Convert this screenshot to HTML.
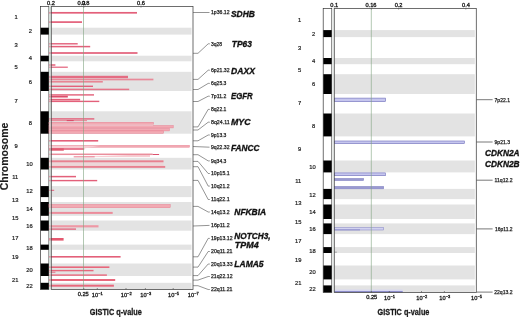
<!DOCTYPE html>
<html><head><meta charset="utf-8"><title>GISTIC</title>
<style>
html,body{margin:0;padding:0;background:#fff;}
body{width:520px;height:317px;overflow:hidden;}
svg{display:block;font-family:"Liberation Sans", sans-serif;}
</style></head><body>
<svg width="520" height="317" viewBox="0 0 520 317">
<rect x="0" y="0" width="520" height="317" fill="#fff"/>
<rect x="51.30" y="27.70" width="140.20" height="6.90" fill="#e3e3e3" />
<rect x="51.30" y="55.70" width="140.20" height="5.60" fill="#e3e3e3" />
<rect x="51.30" y="71.80" width="140.20" height="19.20" fill="#e3e3e3" />
<rect x="51.30" y="111.30" width="140.20" height="22.40" fill="#e3e3e3" />
<rect x="51.30" y="157.80" width="140.20" height="11.70" fill="#e3e3e3" />
<rect x="51.30" y="186.10" width="140.20" height="11.00" fill="#e3e3e3" />
<rect x="51.30" y="202.00" width="140.20" height="13.80" fill="#e3e3e3" />
<rect x="51.30" y="220.50" width="140.20" height="10.20" fill="#e3e3e3" />
<rect x="51.30" y="244.60" width="140.20" height="5.20" fill="#e3e3e3" />
<rect x="51.30" y="263.50" width="140.20" height="12.50" fill="#e3e3e3" />
<rect x="51.30" y="282.80" width="140.20" height="6.60" fill="#e3e3e3" />
<rect x="40.50" y="6.50" width="8.40" height="282.90" fill="#fff" />
<rect x="40.50" y="27.70" width="8.40" height="6.90" fill="#000" />
<rect x="40.50" y="55.70" width="8.40" height="5.60" fill="#000" />
<rect x="40.50" y="71.80" width="8.40" height="19.20" fill="#000" />
<rect x="40.50" y="111.30" width="8.40" height="22.40" fill="#000" />
<rect x="40.50" y="157.80" width="8.40" height="11.70" fill="#000" />
<rect x="40.50" y="186.10" width="8.40" height="11.00" fill="#000" />
<rect x="40.50" y="202.00" width="8.40" height="13.80" fill="#000" />
<rect x="40.50" y="220.50" width="8.40" height="10.20" fill="#000" />
<rect x="40.50" y="244.60" width="8.40" height="5.20" fill="#000" />
<rect x="40.50" y="263.50" width="8.40" height="12.50" fill="#000" />
<rect x="40.50" y="282.80" width="8.40" height="6.60" fill="#000" />
<rect x="40.50" y="6.50" width="8.40" height="282.90" fill="none" stroke="#333" stroke-width="0.7"/>
<rect x="49.20" y="6.50" width="1.80" height="282.90" fill="#d3dfda" />
<rect x="49.00" y="122.30" width="104.40" height="2.20" fill="#f2aab3" stroke="#e77f90" stroke-width="0.5"/>
<rect x="49.00" y="125.60" width="124.20" height="2.30" fill="#f2aab3" stroke="#e77f90" stroke-width="0.5"/>
<rect x="49.00" y="128.50" width="120.30" height="2.40" fill="#f2aab3" stroke="#e77f90" stroke-width="0.5"/>
<rect x="49.00" y="130.90" width="114.50" height="2.40" fill="#f2aab3" stroke="#e77f90" stroke-width="0.5"/>
<rect x="49.00" y="124.50" width="104.00" height="1.10" fill="#f6c9cf" />
<rect x="49" y="145.4" width="140.4" height="1.8" fill="#f2aab3" stroke="#e77f90" stroke-width="0.5"/>
<rect x="49" y="204.5" width="121.2" height="3.2" fill="#f2aab3" stroke="#e77f90" stroke-width="0.5"/>
<rect x="49.00" y="94.90" width="18.80" height="1.90" fill="#f6c6cc" />
<rect x="49.00" y="99.50" width="31.10" height="1.90" fill="#f6c6cc" />
<rect x="49.00" y="161.30" width="114.50" height="5.60" fill="#ecd6d8" />
<polygon points="49,145.7 100,145.7 84,148.4 49,148.4" fill="#f7cdd2"/>
<polygon points="74,157.0 150,154.2 150,157.0" fill="#f7cdd2"/>
<rect x="49.00" y="11.95" width="88.00" height="1.70" fill="#e3607a" />
<rect x="49.00" y="21.25" width="33.00" height="1.70" fill="#e3607a" />
<rect x="49.00" y="43.10" width="28.70" height="1.40" fill="#e3607a" />
<rect x="49.00" y="45.85" width="41.20" height="1.50" fill="#e3607a" />
<rect x="49.00" y="52.15" width="88.50" height="1.70" fill="#e3607a" />
<rect x="49.00" y="64.25" width="6.40" height="1.50" fill="#e3607a" />
<rect x="49.00" y="66.60" width="18.80" height="1.20" fill="#e3607a" />
<rect x="49.00" y="75.80" width="79.00" height="2.40" fill="#e46c82" />
<rect x="49.00" y="78.65" width="104.40" height="1.70" fill="#e88a9a" />
<rect x="49.00" y="81.05" width="53.80" height="1.50" fill="#e8808f" />
<rect x="49.00" y="85.60" width="44.00" height="1.40" fill="#e3607a" />
<rect x="49.00" y="88.65" width="80.20" height="1.50" fill="#e57589" />
<rect x="49.00" y="94.20" width="45.00" height="1.40" fill="#e3607a" />
<rect x="49.00" y="96.10" width="18.80" height="1.40" fill="#d8405f" />
<rect x="49.00" y="98.80" width="31.10" height="1.40" fill="#e3607a" />
<rect x="49.00" y="100.70" width="50.30" height="1.40" fill="#e3607a" />
<rect x="49.00" y="118.20" width="45.30" height="1.40" fill="#e3607a" />
<rect x="49.00" y="120.05" width="38.00" height="1.10" fill="#e88a9a" />
<rect x="49.00" y="140.00" width="49.20" height="1.60" fill="#e3607a" />
<rect x="49.00" y="148.20" width="35.20" height="1.60" fill="#e3607a" />
<rect x="49.00" y="153.55" width="103.60" height="1.50" fill="#ea8e9c" />
<rect x="49.00" y="160.35" width="114.50" height="1.90" fill="#e8808f" />
<rect x="49.00" y="165.95" width="116.20" height="1.90" fill="#e8808f" />
<rect x="49.00" y="175.85" width="27.00" height="1.50" fill="#e3607a" />
<rect x="49.00" y="179.90" width="48.20" height="1.40" fill="#e3607a" />
<rect x="49.00" y="189.80" width="5.20" height="1.00" fill="#e3607a" />
<rect x="49.00" y="211.90" width="63.70" height="2.00" fill="#ec8c9b" />
<rect x="49.00" y="225.20" width="49.50" height="2.20" fill="#ee98a5" />
<rect x="49.00" y="228.45" width="27.00" height="1.30" fill="#e3607a" />
<rect x="49.00" y="238.00" width="14.60" height="2.60" fill="#e4586f" />
<rect x="49.00" y="256.00" width="71.60" height="1.60" fill="#e3607a" />
<rect x="49.00" y="266.40" width="60.40" height="1.60" fill="#e8687c" />
<rect x="49.00" y="269.90" width="44.50" height="1.40" fill="#e8687c" />
<rect x="49.00" y="271.75" width="6.40" height="0.90" fill="#e3607a" />
<rect x="49.00" y="274.40" width="57.90" height="1.40" fill="#e8687c" />
<rect x="49.00" y="279.00" width="66.20" height="2.00" fill="#e8687c" />
<rect x="49.00" y="284.70" width="64.90" height="2.00" fill="#e8687c" />
<rect x="73.70" y="156.40" width="21.00" height="0.90" fill="#e66e83" />
<rect x="152.60" y="154.10" width="6.50" height="0.90" fill="#d8405f" />
<rect x="49.00" y="148.30" width="14.80" height="2.40" fill="#e25a70" />
<rect x="66.70" y="120.20" width="7.00" height="0.90" fill="#d8405f" />
<rect x="49.20" y="6.50" width="1.80" height="282.90" fill="#dde6e2" opacity="0.55"/>
<line x1="83.50" y1="6.50" x2="83.50" y2="289.40" stroke="#7fa27f" stroke-width="0.6" />
<rect x="51.30" y="6.50" width="141.70" height="282.90" fill="none" stroke="#4a4a4a" stroke-width="0.8"/>
<line x1="83.80" y1="289.40" x2="83.80" y2="288.00" stroke="#4a4a4a" stroke-width="0.6" />
<line x1="97.30" y1="289.40" x2="97.30" y2="288.00" stroke="#4a4a4a" stroke-width="0.6" />
<line x1="126.00" y1="289.40" x2="126.00" y2="288.00" stroke="#4a4a4a" stroke-width="0.6" />
<line x1="145.40" y1="289.40" x2="145.40" y2="288.00" stroke="#4a4a4a" stroke-width="0.6" />
<line x1="173.20" y1="289.40" x2="173.20" y2="288.00" stroke="#4a4a4a" stroke-width="0.6" />
<line x1="83.80" y1="6.50" x2="83.80" y2="7.60" stroke="#4a4a4a" stroke-width="0.6" />
<line x1="141.00" y1="6.50" x2="141.00" y2="7.60" stroke="#4a4a4a" stroke-width="0.6" />
<text x="51.00" y="4.60" font-size="5.7" fill="#1a1a1a" font-weight="normal" font-style="normal" text-anchor="middle" stroke="#1a1a1a" stroke-width="0.32">0.2</text>
<text x="81.50" y="4.60" font-size="5.7" fill="#1a1a1a" font-weight="normal" font-style="normal" text-anchor="middle" stroke="#1a1a1a" stroke-width="0.32">0.3</text>
<text x="85.60" y="4.60" font-size="5.7" fill="#1a1a1a" font-weight="normal" font-style="normal" text-anchor="middle" stroke="#1a1a1a" stroke-width="0.32">0.8</text>
<text x="141.00" y="4.60" font-size="5.7" fill="#1a1a1a" font-weight="normal" font-style="normal" text-anchor="middle" stroke="#1a1a1a" stroke-width="0.32">0.6</text>
<text x="83.20" y="296.40" font-size="5.7" fill="#1a1a1a" font-weight="normal" font-style="normal" text-anchor="middle" stroke="#1a1a1a" stroke-width="0.32">0.25</text>
<text x="97.30" y="297.20" font-size="5.7" fill="#1a1a1a" stroke="#1a1a1a" stroke-width="0.3" text-anchor="middle">10<tspan font-size="4.0" dy="-2.1">−1</tspan></text>
<text x="126.20" y="297.20" font-size="5.7" fill="#1a1a1a" stroke="#1a1a1a" stroke-width="0.3" text-anchor="middle">10<tspan font-size="4.0" dy="-2.1">−2</tspan></text>
<text x="145.70" y="297.20" font-size="5.7" fill="#1a1a1a" stroke="#1a1a1a" stroke-width="0.3" text-anchor="middle">10<tspan font-size="4.0" dy="-2.1">−3</tspan></text>
<text x="173.50" y="297.20" font-size="5.7" fill="#1a1a1a" stroke="#1a1a1a" stroke-width="0.3" text-anchor="middle">10<tspan font-size="4.0" dy="-2.1">−5</tspan></text>
<text x="193.30" y="297.20" font-size="5.7" fill="#1a1a1a" stroke="#1a1a1a" stroke-width="0.3" text-anchor="middle">10<tspan font-size="4.0" dy="-2.1">−7</tspan></text>
<text x="89.80" y="314.80" font-size="9.2" fill="#1a1a1a" font-weight="bold" font-style="normal" text-anchor="start" textLength="52.00" lengthAdjust="spacingAndGlyphs" stroke="#1a1a1a" stroke-width="0.3">GISTIC q-value</text>
<text x="16.20" y="19.05" font-size="5.8" fill="#222" font-weight="normal" font-style="normal" text-anchor="middle" stroke="#222" stroke-width="0.2">1</text>
<text x="30.40" y="33.45" font-size="5.8" fill="#222" font-weight="normal" font-style="normal" text-anchor="middle" stroke="#222" stroke-width="0.2">2</text>
<text x="16.20" y="47.25" font-size="5.8" fill="#222" font-weight="normal" font-style="normal" text-anchor="middle" stroke="#222" stroke-width="0.2">3</text>
<text x="30.40" y="60.45" font-size="5.8" fill="#222" font-weight="normal" font-style="normal" text-anchor="middle" stroke="#222" stroke-width="0.2">4</text>
<text x="16.20" y="68.55" font-size="5.8" fill="#222" font-weight="normal" font-style="normal" text-anchor="middle" stroke="#222" stroke-width="0.2">5</text>
<text x="30.40" y="83.55" font-size="5.8" fill="#222" font-weight="normal" font-style="normal" text-anchor="middle" stroke="#222" stroke-width="0.2">6</text>
<text x="16.20" y="103.45" font-size="5.8" fill="#222" font-weight="normal" font-style="normal" text-anchor="middle" stroke="#222" stroke-width="0.2">7</text>
<text x="30.40" y="124.65" font-size="5.8" fill="#222" font-weight="normal" font-style="normal" text-anchor="middle" stroke="#222" stroke-width="0.2">8</text>
<text x="16.20" y="148.35" font-size="5.8" fill="#222" font-weight="normal" font-style="normal" text-anchor="middle" stroke="#222" stroke-width="0.2">9</text>
<text x="29.40" y="166.35" font-size="5.8" fill="#222" font-weight="normal" font-style="normal" text-anchor="middle" stroke="#222" stroke-width="0.2">10</text>
<text x="15.20" y="179.25" font-size="5.8" fill="#222" font-weight="normal" font-style="normal" text-anchor="middle" stroke="#222" stroke-width="0.2">11</text>
<text x="29.40" y="193.45" font-size="5.8" fill="#222" font-weight="normal" font-style="normal" text-anchor="middle" stroke="#222" stroke-width="0.2">12</text>
<text x="15.20" y="201.65" font-size="5.8" fill="#222" font-weight="normal" font-style="normal" text-anchor="middle" stroke="#222" stroke-width="0.2">13</text>
<text x="29.40" y="211.15" font-size="5.8" fill="#222" font-weight="normal" font-style="normal" text-anchor="middle" stroke="#222" stroke-width="0.2">14</text>
<text x="15.20" y="220.45" font-size="5.8" fill="#222" font-weight="normal" font-style="normal" text-anchor="middle" stroke="#222" stroke-width="0.2">15</text>
<text x="29.40" y="228.25" font-size="5.8" fill="#222" font-weight="normal" font-style="normal" text-anchor="middle" stroke="#222" stroke-width="0.2">16</text>
<text x="15.20" y="240.05" font-size="5.8" fill="#222" font-weight="normal" font-style="normal" text-anchor="middle" stroke="#222" stroke-width="0.2">17</text>
<text x="29.40" y="249.65" font-size="5.8" fill="#222" font-weight="normal" font-style="normal" text-anchor="middle" stroke="#222" stroke-width="0.2">18</text>
<text x="15.20" y="258.65" font-size="5.8" fill="#222" font-weight="normal" font-style="normal" text-anchor="middle" stroke="#222" stroke-width="0.2">19</text>
<text x="29.40" y="272.05" font-size="5.8" fill="#222" font-weight="normal" font-style="normal" text-anchor="middle" stroke="#222" stroke-width="0.2">20</text>
<text x="15.20" y="281.65" font-size="5.8" fill="#222" font-weight="normal" font-style="normal" text-anchor="middle" stroke="#222" stroke-width="0.2">21</text>
<text x="29.40" y="287.95" font-size="5.8" fill="#222" font-weight="normal" font-style="normal" text-anchor="middle" stroke="#222" stroke-width="0.2">22</text>
<text transform="translate(7.9,190.2) rotate(-90)" font-size="10.2" font-weight="bold" fill="#1a1a1a" stroke="#1a1a1a" stroke-width="0.15" textLength="67.5" lengthAdjust="spacingAndGlyphs">Chromosome</text>
<polyline points="193.0,12.50 209.5,12.50" fill="none" stroke="#4c4c4c" stroke-width="0.6"/>
<text x="211.00" y="14.35" font-size="5.3" fill="#222" font-weight="normal" font-style="normal" text-anchor="start" textLength="18.60" lengthAdjust="spacingAndGlyphs"  stroke="#222" stroke-width="0.25">1p36.12</text>
<text x="231.00" y="16.80" font-size="9.8" fill="#111" font-weight="bold" font-style="italic" text-anchor="start" textLength="23.90" lengthAdjust="spacingAndGlyphs"  stroke="#111" stroke-width="0.35">SDHB</text>
<polyline points="193.0,53.30 198.0,53.30 208.2,43.80 209.8,43.80" fill="none" stroke="#4c4c4c" stroke-width="0.6" stroke-linejoin="round"/>
<text x="211.00" y="45.65" font-size="5.3" fill="#222" font-weight="normal" font-style="normal" text-anchor="start" textLength="11.00" lengthAdjust="spacingAndGlyphs"  stroke="#222" stroke-width="0.25">3q28</text>
<text x="231.80" y="47.10" font-size="9.8" fill="#111" font-weight="bold" font-style="italic" text-anchor="start" textLength="20.10" lengthAdjust="spacingAndGlyphs"  stroke="#111" stroke-width="0.35">TP63</text>
<polyline points="193.0,79.40 198.0,79.40 208.2,70.20 209.8,70.20" fill="none" stroke="#4c4c4c" stroke-width="0.6" stroke-linejoin="round"/>
<text x="211.00" y="72.05" font-size="5.3" fill="#222" font-weight="normal" font-style="normal" text-anchor="start" textLength="18.60" lengthAdjust="spacingAndGlyphs"  stroke="#222" stroke-width="0.25">6p21.32</text>
<text x="231.00" y="74.10" font-size="9.8" fill="#111" font-weight="bold" font-style="italic" text-anchor="start" textLength="23.90" lengthAdjust="spacingAndGlyphs"  stroke="#111" stroke-width="0.35">DAXX</text>
<polyline points="193.0,89.50 198.0,89.50 208.2,83.40 209.8,83.40" fill="none" stroke="#4c4c4c" stroke-width="0.6" stroke-linejoin="round"/>
<text x="211.00" y="85.25" font-size="5.3" fill="#222" font-weight="normal" font-style="normal" text-anchor="start" textLength="15.40" lengthAdjust="spacingAndGlyphs"  stroke="#222" stroke-width="0.25">6q25.3</text>
<polyline points="193.0,101.50 198.0,101.50 208.2,96.20 209.8,96.20" fill="none" stroke="#4c4c4c" stroke-width="0.6" stroke-linejoin="round"/>
<text x="211.00" y="98.05" font-size="5.3" fill="#222" font-weight="normal" font-style="normal" text-anchor="start" textLength="15.40" lengthAdjust="spacingAndGlyphs"  stroke="#222" stroke-width="0.25">7p11.2</text>
<text x="231.00" y="99.20" font-size="9.8" fill="#111" font-weight="bold" font-style="italic" text-anchor="start" textLength="21.70" lengthAdjust="spacingAndGlyphs"  stroke="#111" stroke-width="0.35">EGFR</text>
<polyline points="193.0,126.90 198.0,126.90 208.2,109.40 209.8,109.40" fill="none" stroke="#4c4c4c" stroke-width="0.6" stroke-linejoin="round"/>
<text x="211.00" y="111.25" font-size="5.3" fill="#222" font-weight="normal" font-style="normal" text-anchor="start" textLength="15.40" lengthAdjust="spacingAndGlyphs"  stroke="#222" stroke-width="0.25">8q22.1</text>
<polyline points="193.0,130.00 198.0,130.00 208.2,122.20 209.8,122.20" fill="none" stroke="#4c4c4c" stroke-width="0.6" stroke-linejoin="round"/>
<text x="211.00" y="124.05" font-size="5.3" fill="#222" font-weight="normal" font-style="normal" text-anchor="start" textLength="18.60" lengthAdjust="spacingAndGlyphs"  stroke="#222" stroke-width="0.25">8q24.11</text>
<text x="231.00" y="125.00" font-size="9.8" fill="#111" font-weight="bold" font-style="italic" text-anchor="start" textLength="19.60" lengthAdjust="spacingAndGlyphs"  stroke="#111" stroke-width="0.35">MYC</text>
<polyline points="193.0,140.80 198.0,140.80 208.2,135.00 209.8,135.00" fill="none" stroke="#4c4c4c" stroke-width="0.6" stroke-linejoin="round"/>
<text x="211.00" y="136.85" font-size="5.3" fill="#222" font-weight="normal" font-style="normal" text-anchor="start" textLength="15.40" lengthAdjust="spacingAndGlyphs"  stroke="#222" stroke-width="0.25">9p13.3</text>
<polyline points="193.0,146.50 209.5,147.20" fill="none" stroke="#4c4c4c" stroke-width="0.6"/>
<text x="211.00" y="149.05" font-size="5.3" fill="#222" font-weight="normal" font-style="normal" text-anchor="start" textLength="18.60" lengthAdjust="spacingAndGlyphs"  stroke="#222" stroke-width="0.25">9q22.32</text>
<text x="231.00" y="151.20" font-size="9.8" fill="#111" font-weight="bold" font-style="italic" text-anchor="start" textLength="28.40" lengthAdjust="spacingAndGlyphs"  stroke="#111" stroke-width="0.35">FANCC</text>
<polyline points="193.0,154.70 198.0,154.70 208.2,160.90 209.8,160.90" fill="none" stroke="#4c4c4c" stroke-width="0.6" stroke-linejoin="round"/>
<text x="211.00" y="162.75" font-size="5.3" fill="#222" font-weight="normal" font-style="normal" text-anchor="start" textLength="15.40" lengthAdjust="spacingAndGlyphs"  stroke="#222" stroke-width="0.25">9q34.3</text>
<polyline points="193.0,161.40 198.0,161.40 208.2,173.50 209.8,173.50" fill="none" stroke="#4c4c4c" stroke-width="0.6" stroke-linejoin="round"/>
<text x="211.00" y="175.35" font-size="5.3" fill="#222" font-weight="normal" font-style="normal" text-anchor="start" textLength="18.60" lengthAdjust="spacingAndGlyphs"  stroke="#222" stroke-width="0.25">10p15.1</text>
<polyline points="193.0,166.70 198.0,166.70 208.2,186.10 209.8,186.10" fill="none" stroke="#4c4c4c" stroke-width="0.6" stroke-linejoin="round"/>
<text x="211.00" y="187.95" font-size="5.3" fill="#222" font-weight="normal" font-style="normal" text-anchor="start" textLength="18.60" lengthAdjust="spacingAndGlyphs"  stroke="#222" stroke-width="0.25">10q21.2</text>
<polyline points="193.0,180.40 198.0,180.40 208.2,199.50 209.8,199.50" fill="none" stroke="#4c4c4c" stroke-width="0.6" stroke-linejoin="round"/>
<text x="211.00" y="201.35" font-size="5.3" fill="#222" font-weight="normal" font-style="normal" text-anchor="start" textLength="18.60" lengthAdjust="spacingAndGlyphs"  stroke="#222" stroke-width="0.25">11q22.1</text>
<polyline points="193.0,206.40 198.0,206.40 208.2,212.00 209.8,212.00" fill="none" stroke="#4c4c4c" stroke-width="0.6" stroke-linejoin="round"/>
<text x="211.00" y="213.85" font-size="5.3" fill="#222" font-weight="normal" font-style="normal" text-anchor="start" textLength="18.60" lengthAdjust="spacingAndGlyphs"  stroke="#222" stroke-width="0.25">14q13.2</text>
<text x="234.30" y="215.00" font-size="9.8" fill="#111" font-weight="bold" font-style="italic" text-anchor="start" textLength="31.80" lengthAdjust="spacingAndGlyphs"  stroke="#111" stroke-width="0.35">NFKBIA</text>
<polyline points="193.0,226.00 209.5,225.40" fill="none" stroke="#4c4c4c" stroke-width="0.6"/>
<text x="211.00" y="227.25" font-size="5.3" fill="#222" font-weight="normal" font-style="normal" text-anchor="start" textLength="18.60" lengthAdjust="spacingAndGlyphs"  stroke="#222" stroke-width="0.25">16p11.2</text>
<polyline points="193.0,256.80 198.0,256.80 208.2,238.40 209.8,238.40" fill="none" stroke="#4c4c4c" stroke-width="0.6" stroke-linejoin="round"/>
<text x="211.00" y="240.25" font-size="5.3" fill="#222" font-weight="normal" font-style="normal" text-anchor="start" textLength="21.50" lengthAdjust="spacingAndGlyphs"  stroke="#222" stroke-width="0.25">19p13.12</text>
<text x="234.30" y="238.80" font-size="9.8" fill="#111" font-weight="bold" font-style="italic" text-anchor="start" textLength="36.30" lengthAdjust="spacingAndGlyphs"  stroke="#111" stroke-width="0.35">NOTCH3,</text>
<polyline points="193.0,267.10 198.0,267.10 208.2,251.50 209.8,251.50" fill="none" stroke="#4c4c4c" stroke-width="0.6" stroke-linejoin="round"/>
<text x="211.00" y="253.35" font-size="5.3" fill="#222" font-weight="normal" font-style="normal" text-anchor="start" textLength="21.50" lengthAdjust="spacingAndGlyphs"  stroke="#222" stroke-width="0.25">20q11.21</text>
<polyline points="193.0,275.60 198.0,275.60 208.2,264.00 209.8,264.00" fill="none" stroke="#4c4c4c" stroke-width="0.6" stroke-linejoin="round"/>
<text x="211.00" y="265.85" font-size="5.3" fill="#222" font-weight="normal" font-style="normal" text-anchor="start" textLength="21.50" lengthAdjust="spacingAndGlyphs"  stroke="#222" stroke-width="0.25">20q13.33</text>
<text x="234.30" y="267.10" font-size="9.8" fill="#111" font-weight="bold" font-style="italic" text-anchor="start" textLength="29.30" lengthAdjust="spacingAndGlyphs"  stroke="#111" stroke-width="0.35">LAMA5</text>
<polyline points="193.0,280.10 198.0,280.10 208.2,276.50 209.8,276.50" fill="none" stroke="#4c4c4c" stroke-width="0.6" stroke-linejoin="round"/>
<text x="211.00" y="278.35" font-size="5.3" fill="#222" font-weight="normal" font-style="normal" text-anchor="start" textLength="21.50" lengthAdjust="spacingAndGlyphs"  stroke="#222" stroke-width="0.25">21q22.12</text>
<polyline points="193.0,285.70 198.0,285.70 208.2,289.50 209.8,289.50" fill="none" stroke="#4c4c4c" stroke-width="0.6" stroke-linejoin="round"/>
<text x="211.00" y="291.35" font-size="5.3" fill="#222" font-weight="normal" font-style="normal" text-anchor="start" textLength="21.50" lengthAdjust="spacingAndGlyphs"  stroke="#222" stroke-width="0.25">22q11.21</text>
<text x="234.80" y="248.00" font-size="9.8" fill="#111" font-weight="bold" font-style="italic" text-anchor="start" textLength="23.80" lengthAdjust="spacingAndGlyphs"  stroke="#111" stroke-width="0.35">TPM4</text>
<rect x="334.30" y="30.10" width="140.50" height="7.00" fill="#e3e3e3" />
<rect x="334.30" y="58.00" width="140.50" height="6.20" fill="#e3e3e3" />
<rect x="334.30" y="74.20" width="140.50" height="19.80" fill="#e3e3e3" />
<rect x="334.30" y="113.50" width="140.50" height="22.90" fill="#e3e3e3" />
<rect x="334.30" y="160.50" width="140.50" height="11.90" fill="#e3e3e3" />
<rect x="334.30" y="188.90" width="140.50" height="10.20" fill="#e3e3e3" />
<rect x="334.30" y="204.50" width="140.50" height="14.50" fill="#e3e3e3" />
<rect x="334.30" y="223.40" width="140.50" height="10.70" fill="#e3e3e3" />
<rect x="334.30" y="247.10" width="140.50" height="5.90" fill="#e3e3e3" />
<rect x="334.30" y="265.50" width="140.50" height="13.90" fill="#e3e3e3" />
<rect x="334.30" y="285.40" width="140.50" height="7.00" fill="#e3e3e3" />
<rect x="323.20" y="8.40" width="8.60" height="284.00" fill="#fff" />
<rect x="323.20" y="30.10" width="8.60" height="7.00" fill="#000" />
<rect x="323.20" y="58.00" width="8.60" height="6.20" fill="#000" />
<rect x="323.20" y="74.20" width="8.60" height="19.80" fill="#000" />
<rect x="323.20" y="113.50" width="8.60" height="22.90" fill="#000" />
<rect x="323.20" y="160.50" width="8.60" height="11.90" fill="#000" />
<rect x="323.20" y="188.90" width="8.60" height="10.20" fill="#000" />
<rect x="323.20" y="204.50" width="8.60" height="14.50" fill="#000" />
<rect x="323.20" y="223.40" width="8.60" height="10.70" fill="#000" />
<rect x="323.20" y="247.10" width="8.60" height="5.90" fill="#000" />
<rect x="323.20" y="265.50" width="8.60" height="13.90" fill="#000" />
<rect x="323.20" y="285.40" width="8.60" height="7.00" fill="#000" />
<rect x="323.20" y="8.40" width="8.60" height="284.00" fill="none" stroke="#333" stroke-width="0.7"/>
<rect x="332.10" y="8.40" width="1.90" height="284.00" fill="#e9ecea" />
<rect x="334.30" y="98.10" width="51.20" height="3.50" fill="#c6c6ee" stroke="#6b6bb8" stroke-width="0.6"/>
<rect x="334.30" y="141.00" width="130.00" height="2.60" fill="#c6c6ee" stroke="#6b6bb8" stroke-width="0.6"/>
<rect x="334.30" y="172.90" width="51.00" height="2.80" fill="#c6c6ee" stroke="#6b6bb8" stroke-width="0.6"/>
<rect x="334.30" y="178.50" width="29.30" height="2.00" fill="#9a9ad0" stroke="#8080c4" stroke-width="0.6"/>
<rect x="334.30" y="186.50" width="49.40" height="2.30" fill="#9a9ad0" stroke="#8080c4" stroke-width="0.6"/>
<rect x="334.30" y="227.60" width="49.40" height="2.40" fill="#d2d2f0" stroke="#8080c4" stroke-width="0.5"/>
<rect x="334.30" y="229.50" width="25.70" height="0.80" fill="#8080c4" />
<rect x="334.30" y="289.60" width="68.40" height="2.80" fill="#d8d8f2" />
<rect x="334.30" y="291.30" width="68.40" height="1.00" fill="#6b6bb8" />
<rect x="334.30" y="251.80" width="2.60" height="0.60" fill="#777" />
<line x1="371.30" y1="8.40" x2="371.30" y2="292.40" stroke="#7fa27f" stroke-width="0.6" />
<rect x="334.30" y="8.40" width="142.00" height="284.00" fill="none" stroke="#4a4a4a" stroke-width="0.8"/>
<line x1="371.40" y1="292.40" x2="371.40" y2="291.00" stroke="#4a4a4a" stroke-width="0.6" />
<line x1="389.30" y1="292.40" x2="389.30" y2="291.00" stroke="#4a4a4a" stroke-width="0.6" />
<line x1="421.50" y1="292.40" x2="421.50" y2="291.00" stroke="#4a4a4a" stroke-width="0.6" />
<line x1="444.40" y1="292.40" x2="444.40" y2="291.00" stroke="#4a4a4a" stroke-width="0.6" />
<line x1="371.40" y1="8.40" x2="371.40" y2="9.50" stroke="#4a4a4a" stroke-width="0.6" />
<line x1="398.60" y1="8.40" x2="398.60" y2="9.50" stroke="#4a4a4a" stroke-width="0.6" />
<line x1="465.80" y1="8.40" x2="465.80" y2="9.50" stroke="#4a4a4a" stroke-width="0.6" />
<text x="334.20" y="6.80" font-size="5.7" fill="#1a1a1a" font-weight="normal" font-style="normal" text-anchor="middle" stroke="#1a1a1a" stroke-width="0.32">0.1</text>
<text x="371.00" y="6.80" font-size="5.7" fill="#1a1a1a" font-weight="normal" font-style="normal" text-anchor="middle" stroke="#1a1a1a" stroke-width="0.32">0.16</text>
<text x="398.60" y="6.80" font-size="5.7" fill="#1a1a1a" font-weight="normal" font-style="normal" text-anchor="middle" stroke="#1a1a1a" stroke-width="0.32">0.2</text>
<text x="466.00" y="6.80" font-size="5.7" fill="#1a1a1a" font-weight="normal" font-style="normal" text-anchor="middle" stroke="#1a1a1a" stroke-width="0.32">0.4</text>
<text x="371.70" y="299.40" font-size="5.7" fill="#1a1a1a" font-weight="normal" font-style="normal" text-anchor="middle" stroke="#1a1a1a" stroke-width="0.32">0.25</text>
<text x="389.50" y="300.00" font-size="5.7" fill="#1a1a1a" stroke="#1a1a1a" stroke-width="0.3" text-anchor="middle">10<tspan font-size="4.0" dy="-2.1">−1</tspan></text>
<text x="421.80" y="300.00" font-size="5.7" fill="#1a1a1a" stroke="#1a1a1a" stroke-width="0.3" text-anchor="middle">10<tspan font-size="4.0" dy="-2.1">−2</tspan></text>
<text x="444.80" y="300.00" font-size="5.7" fill="#1a1a1a" stroke="#1a1a1a" stroke-width="0.3" text-anchor="middle">10<tspan font-size="4.0" dy="-2.1">−3</tspan></text>
<text x="476.50" y="300.00" font-size="5.7" fill="#1a1a1a" stroke="#1a1a1a" stroke-width="0.3" text-anchor="middle">10<tspan font-size="4.0" dy="-2.1">−5</tspan></text>
<text x="377.60" y="314.90" font-size="9.2" fill="#1a1a1a" font-weight="bold" font-style="normal" text-anchor="start" textLength="51.80" lengthAdjust="spacingAndGlyphs" stroke="#1a1a1a" stroke-width="0.3">GISTIC q-value</text>
<text x="299.50" y="21.75" font-size="5.8" fill="#222" font-weight="normal" font-style="normal" text-anchor="middle" stroke="#222" stroke-width="0.2">1</text>
<text x="313.70" y="36.05" font-size="5.8" fill="#222" font-weight="normal" font-style="normal" text-anchor="middle" stroke="#222" stroke-width="0.2">2</text>
<text x="299.50" y="49.75" font-size="5.8" fill="#222" font-weight="normal" font-style="normal" text-anchor="middle" stroke="#222" stroke-width="0.2">3</text>
<text x="313.70" y="63.05" font-size="5.8" fill="#222" font-weight="normal" font-style="normal" text-anchor="middle" stroke="#222" stroke-width="0.2">4</text>
<text x="299.50" y="71.75" font-size="5.8" fill="#222" font-weight="normal" font-style="normal" text-anchor="middle" stroke="#222" stroke-width="0.2">5</text>
<text x="313.70" y="86.35" font-size="5.8" fill="#222" font-weight="normal" font-style="normal" text-anchor="middle" stroke="#222" stroke-width="0.2">6</text>
<text x="299.50" y="105.05" font-size="5.8" fill="#222" font-weight="normal" font-style="normal" text-anchor="middle" stroke="#222" stroke-width="0.2">7</text>
<text x="313.70" y="127.65" font-size="5.8" fill="#222" font-weight="normal" font-style="normal" text-anchor="middle" stroke="#222" stroke-width="0.2">8</text>
<text x="299.50" y="151.05" font-size="5.8" fill="#222" font-weight="normal" font-style="normal" text-anchor="middle" stroke="#222" stroke-width="0.2">9</text>
<text x="312.50" y="168.95" font-size="5.8" fill="#222" font-weight="normal" font-style="normal" text-anchor="middle" stroke="#222" stroke-width="0.2">10</text>
<text x="298.30" y="182.75" font-size="5.8" fill="#222" font-weight="normal" font-style="normal" text-anchor="middle" stroke="#222" stroke-width="0.2">11</text>
<text x="312.50" y="196.65" font-size="5.8" fill="#222" font-weight="normal" font-style="normal" text-anchor="middle" stroke="#222" stroke-width="0.2">12</text>
<text x="298.30" y="204.55" font-size="5.8" fill="#222" font-weight="normal" font-style="normal" text-anchor="middle" stroke="#222" stroke-width="0.2">13</text>
<text x="312.50" y="214.05" font-size="5.8" fill="#222" font-weight="normal" font-style="normal" text-anchor="middle" stroke="#222" stroke-width="0.2">14</text>
<text x="298.30" y="223.55" font-size="5.8" fill="#222" font-weight="normal" font-style="normal" text-anchor="middle" stroke="#222" stroke-width="0.2">15</text>
<text x="312.50" y="230.75" font-size="5.8" fill="#222" font-weight="normal" font-style="normal" text-anchor="middle" stroke="#222" stroke-width="0.2">16</text>
<text x="298.30" y="242.95" font-size="5.8" fill="#222" font-weight="normal" font-style="normal" text-anchor="middle" stroke="#222" stroke-width="0.2">17</text>
<text x="312.50" y="252.55" font-size="5.8" fill="#222" font-weight="normal" font-style="normal" text-anchor="middle" stroke="#222" stroke-width="0.2">18</text>
<text x="298.30" y="261.75" font-size="5.8" fill="#222" font-weight="normal" font-style="normal" text-anchor="middle" stroke="#222" stroke-width="0.2">19</text>
<text x="312.50" y="274.45" font-size="5.8" fill="#222" font-weight="normal" font-style="normal" text-anchor="middle" stroke="#222" stroke-width="0.2">20</text>
<text x="298.30" y="284.75" font-size="5.8" fill="#222" font-weight="normal" font-style="normal" text-anchor="middle" stroke="#222" stroke-width="0.2">21</text>
<text x="312.50" y="291.45" font-size="5.8" fill="#222" font-weight="normal" font-style="normal" text-anchor="middle" stroke="#222" stroke-width="0.2">22</text>
<line x1="476.30" y1="99.70" x2="492.60" y2="99.70" stroke="#555" stroke-width="0.8" />
<text x="494.50" y="102.30" font-size="5.3" fill="#222" font-weight="normal" font-style="normal" text-anchor="start" textLength="15.50" lengthAdjust="spacingAndGlyphs"  stroke="#222" stroke-width="0.25">7p22.1</text>
<line x1="476.30" y1="142.00" x2="492.60" y2="142.00" stroke="#555" stroke-width="0.8" />
<text x="494.50" y="143.90" font-size="5.3" fill="#222" font-weight="normal" font-style="normal" text-anchor="start" textLength="15.50" lengthAdjust="spacingAndGlyphs"  stroke="#222" stroke-width="0.25">9p21.3</text>
<line x1="476.30" y1="180.20" x2="492.60" y2="180.20" stroke="#555" stroke-width="0.8" />
<text x="494.50" y="182.30" font-size="5.3" fill="#222" font-weight="normal" font-style="normal" text-anchor="start" textLength="18.10" lengthAdjust="spacingAndGlyphs"  stroke="#222" stroke-width="0.25">11q12.2</text>
<line x1="476.30" y1="228.90" x2="492.60" y2="228.90" stroke="#555" stroke-width="0.8" />
<text x="495.00" y="231.10" font-size="5.3" fill="#222" font-weight="normal" font-style="normal" text-anchor="start" textLength="17.60" lengthAdjust="spacingAndGlyphs"  stroke="#222" stroke-width="0.25">16p11.2</text>
<line x1="476.30" y1="292.10" x2="492.60" y2="292.10" stroke="#555" stroke-width="0.8" />
<text x="494.20" y="294.00" font-size="5.3" fill="#222" font-weight="normal" font-style="normal" text-anchor="start" textLength="18.40" lengthAdjust="spacingAndGlyphs"  stroke="#222" stroke-width="0.25">22q13.2</text>
<text x="485.00" y="155.60" font-size="9.8" fill="#111" font-weight="bold" font-style="italic" text-anchor="start" textLength="34.60" lengthAdjust="spacingAndGlyphs"  stroke="#111" stroke-width="0.35">CDKN2A</text>
<text x="485.00" y="167.30" font-size="9.8" fill="#111" font-weight="bold" font-style="italic" text-anchor="start" textLength="34.60" lengthAdjust="spacingAndGlyphs"  stroke="#111" stroke-width="0.35">CDKN2B</text>
</svg>
</body></html>
